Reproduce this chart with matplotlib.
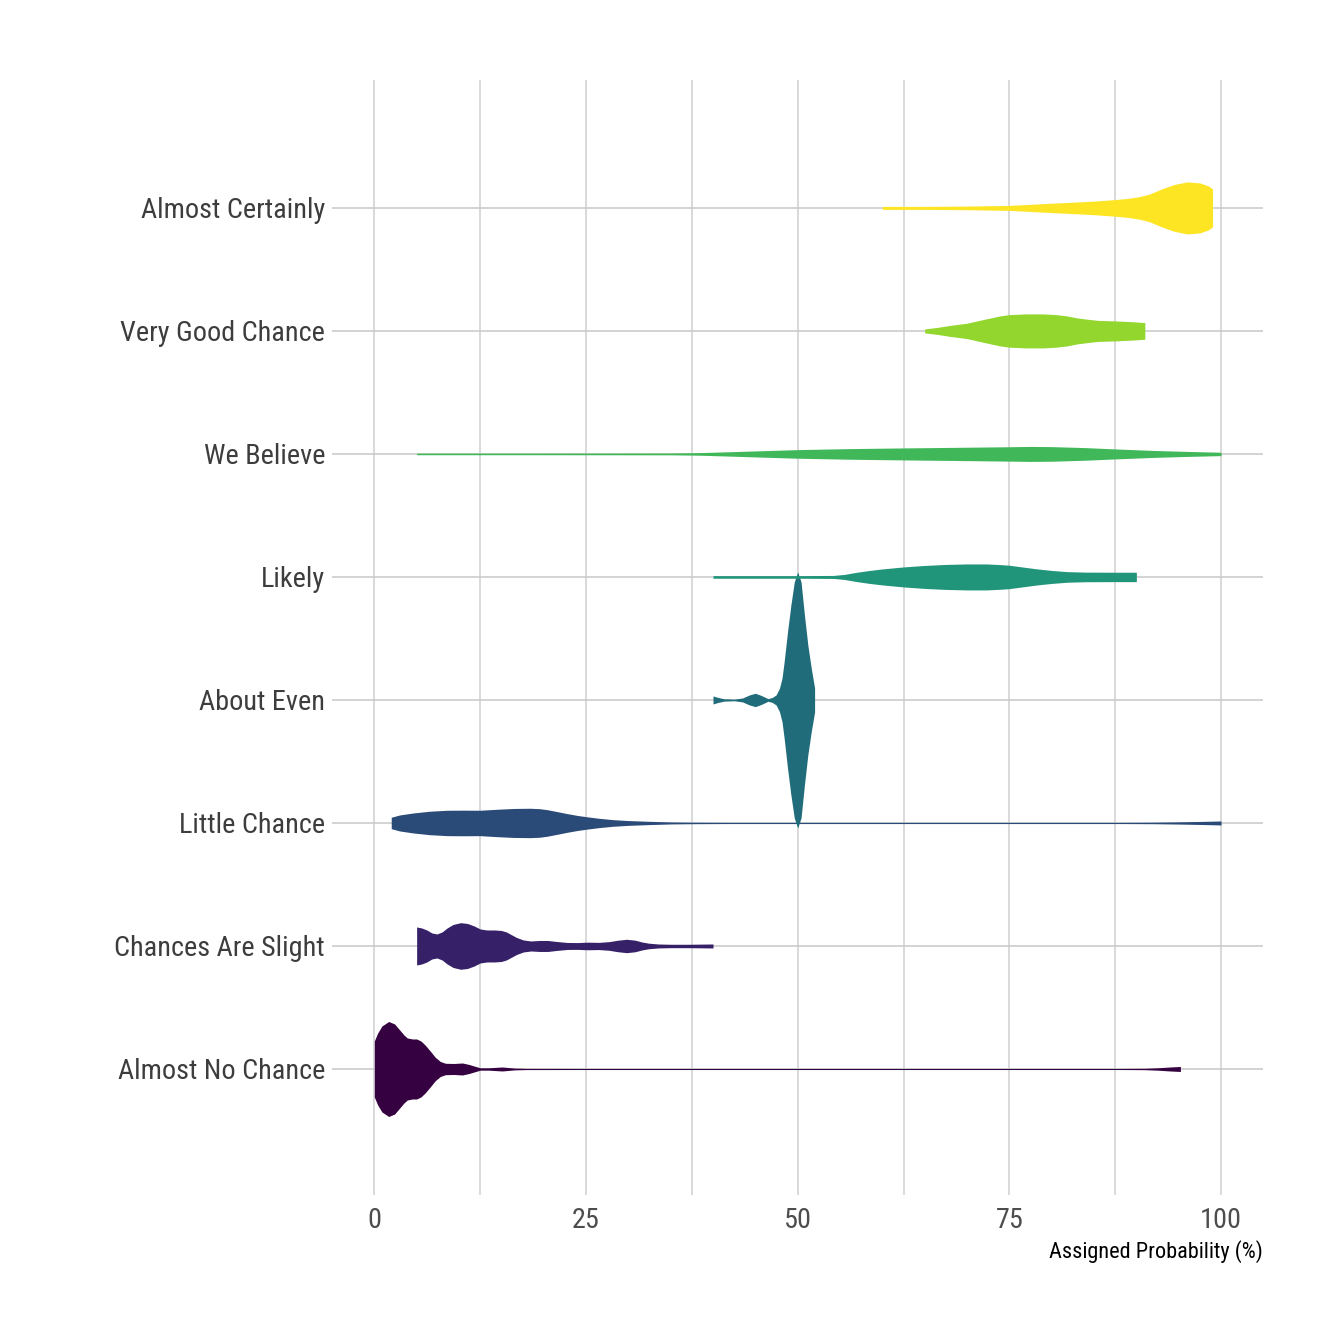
import matplotlib
matplotlib.use("Agg")
import matplotlib.pyplot as plt
from matplotlib import font_manager
import numpy as np

# ---------------- data ----------------
categories = ["Almost No Chance", "Chances Are Slight", "Little Chance", "About Even",
              "Likely", "We Believe", "Very Good Chance", "Almost Certainly"]

# density profiles: probability values and violin half-widths (relative units)
anc_x = [0, 0.4, 0.9, 1.7, 2.4, 2.9, 3.5, 3.9, 4.5, 5.0, 5.5, 6.0, 6.6, 7.2, 7.8, 8.4, 9.4, 10.4,
         11.2, 11.9, 12.5, 13.5, 15.1, 16.6, 18, 25, 50, 75, 88, 91, 92.5, 94, 95.2]
anc_d = [28, 36, 43, 47.5, 45, 40, 34, 31, 30, 30, 28, 24, 18, 11.7, 7.5, 5.7, 5.5, 6,
         4.5, 2.7, 1.2, 1.2, 2, 0.9, 0.6, 0.55, 0.55, 0.55, 0.55, 0.7, 1.2, 2, 2.5]

cas_x = [5, 5.6, 6.2, 6.8, 7.4, 8.0, 8.6, 9.3, 10.2, 11.0, 11.8, 12.5, 13.3, 14.2, 15.0, 15.6, 16.1,
         16.8, 17.6, 18.5, 19.5, 20.5, 21.5, 22.8, 24, 25.2, 26.5, 27.7, 28.8, 29.8, 30.8, 31.6,
         32.4, 33.5, 35, 37, 40]
cas_d = [19, 18, 16, 13, 12, 14, 18, 21.5, 23.3, 22.5, 20, 17, 16, 16, 15.5, 14, 11.7,
         8.5, 6, 5, 5.5, 5.5, 4.5, 3.5, 3.4, 3.8, 3.6, 4.3, 5.8, 6.7, 5.8, 4,
         2.8, 2, 1.7, 1.7, 2]

lc_x = [2, 3, 4.6, 6.5, 8.6, 10.5, 12.5, 14.5, 16.5, 18.4, 19.5, 20.4, 21.5, 22.8, 24, 25, 26.5,
        28.2, 30, 32.2, 35, 37.5, 42, 50, 75, 88, 92, 95, 97.5, 100]
lc_d = [5.7, 8, 10, 11.7, 12.7, 12.8, 12.7, 13.7, 14.5, 14.7, 14.3, 13.3, 11.5, 9.3, 7.5, 6.3, 4.7,
        3.3, 2.4, 1.7, 1.0, 0.75, 0.6, 0.6, 0.6, 0.6, 0.75, 1.1, 1.5, 2]

ae_x = [40, 40.6, 41.3, 42.5, 43.5, 44.3, 45, 45.7, 46.5, 47.0, 47.45, 47.85, 48.15, 48.4, 48.8,
        49.2, 49.6, 50.0, 50.4, 50.8, 51.2, 51.6, 52]
ae_d = [4, 2.5, 1.2, 0.8, 2, 5, 6.7, 4.5, 1.3, 2.5, 5, 11.7, 21.7, 38, 68,
        95, 118, 128, 118, 85, 55, 32, 12]

lik_x = [40, 45, 50, 54.2, 55.5, 57, 58.5, 60, 62.5, 65, 67.5, 70, 72.3, 74, 75, 76.5, 78.3, 80,
         81.8, 84, 87.5, 90]
lik_d = [1.3, 1.3, 1.3, 1.5, 2.5, 4.7, 6.5, 8, 10, 11.5, 12.5, 13, 13, 12.3, 11.7, 10, 8, 6.5,
         5.3, 4.8, 4.7, 4.7]

wb_x = [5, 20, 35, 38.5, 42, 45, 50, 56, 62.5, 70, 75, 77.5, 80, 84, 87.5, 92, 96, 100]
wb_d = [0.8, 0.8, 0.9, 1.3, 2.2, 3, 4.3, 5.3, 6, 6.7, 7.2, 7.5, 7.3, 6.3, 5, 3.5, 2.5, 1.7]

vgc_x = [65, 66.5, 68, 70, 72, 73.9, 75, 77, 79, 80.5, 81.8, 83, 84.2, 85.5, 87.5, 89.5, 91]
vgc_d = [2, 3.5, 5.5, 7.7, 11.5, 15, 16.3, 17, 17, 16.3, 15, 13, 11.7, 10.5, 10, 9.2, 8.3]

ac_x = [60, 65, 70, 75, 78, 80, 82.5, 85, 87.5, 89, 90.5, 91.6, 93, 94.5, 96, 97.5, 98.5, 99]
ac_d = [1.5, 1.5, 1.8, 2.5, 3.8, 4.7, 5.7, 6.8, 8.3, 9.5, 11.5, 14, 19, 23.5, 26, 25, 22, 19]

profiles_x = [anc_x, cas_x, lc_x, ae_x, lik_x, wb_x, vgc_x, ac_x]
profiles_d = [anc_d, cas_d, lc_d, ae_d, lik_d, wb_d, vgc_d, ac_d]

colors = ["#360140", "#362168", "#2a4a78", "#216c7a", "#21957a", "#40b85a", "#92d62e", "#fde523"]

x_ticks = [0, 25, 50, 75, 100]
x_label = "Assigned Probability (%)"

# ---------------- style ----------------
available = {f.name for f in font_manager.fontManager.ttflist}
family = "DejaVu Sans"
for cand in ["Liberation Sans Narrow", "Roboto Condensed", "Liberation Sans", "Roboto"]:
    if cand in available:
        family = cand
        break
plt.rcParams["font.family"] = [family, "DejaVu Sans"]

fig = plt.figure(figsize=(13.44, 13.44), dpi=100)
ax = fig.add_axes([0.247, 0.1109, 0.693, 0.8296])

width_scale = 1.0 / 123.0
for i, (xs, ds, col) in enumerate(zip(profiles_x, profiles_d, colors)):
    xs = np.asarray(xs, float)
    hw = np.asarray(ds, float) * width_scale
    ax.fill_between(xs, i - hw, i + hw, color=col, linewidth=0, zorder=3)

ax.set_xlim(-5, 105)
ax.set_ylim(-1.024, 8.04)

# grid
for v in np.arange(0, 101, 12.5):
    ax.axvline(v, color="#d0d0d0", lw=1.1, zorder=1)
for i in range(len(categories)):
    ax.axhline(i, color="#c8c8c8", lw=1.1, zorder=1)

ax.set_yticks(range(len(categories)))
ax.set_yticklabels(categories, fontsize=20.3, color="#3d3d3d")
ax.set_xticks(x_ticks)
ax.set_xticklabels([str(t) for t in x_ticks], fontsize=20.3, color="#4d4d4d")
ax.tick_params(axis="both", length=0)
ax.tick_params(axis="y", pad=5)
ax.tick_params(axis="x", pad=9)
for s in ax.spines.values():
    s.set_visible(False)

ax.set_xlabel(x_label, fontsize=16, color="black", loc="right", labelpad=4)

fig.savefig("out.png", dpi=100, facecolor="white")
